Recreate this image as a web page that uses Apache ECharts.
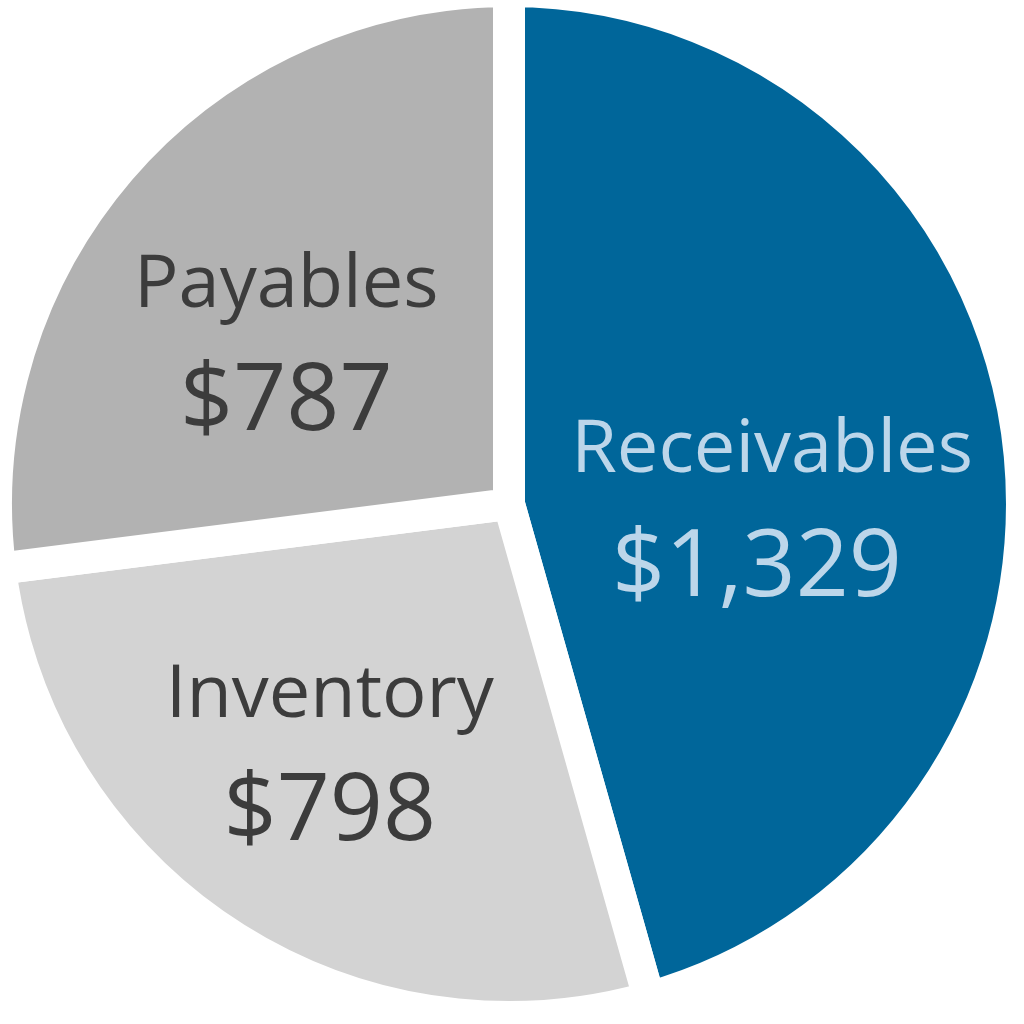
<!DOCTYPE html>
<html>
<head>
<meta charset="utf-8">
<script src="https://cdn.jsdelivr.net/npm/echarts@6/dist/echarts.min.js"></script>
<style>html,body{margin:0;padding:0;background:#fff}#c{width:1024px;height:1024px}</style>
</head>
<body>
<div id="c"></div>
<script>
const categories = ['Receivables', 'Inventory', 'Payables'];
const values = [1329, 798, 787];
const colors = ['#00669a', '#d3d3d3', '#b2b2b2'];
const textColors = ['#bcd6ea', '#3c3c3c', '#3c3c3c'];
// label nudges (layout only)
const labelShift = { Receivables: [6, 42], Inventory: [-36, 34], Payables: [-28, 12] };
const valuePadRight = { Receivables: 30, Inventory: 0, Payables: 0 };

const chart = echarts.init(document.getElementById('c'));
chart.setOption({
  animation: false,
  series: [{
    type: 'pie',
    center: [509, 504],
    radius: [0, 513],
    startAngle: 90,
    clockwise: true,
    itemStyle: { borderColor: '#ffffff', borderWidth: 32 },
    label: {
      show: true,
      position: 'inside',
      fontFamily: 'Open Sans',
      formatter: p => '{n|' + p.name + '}\n{v|$' + p.value.toLocaleString('en-US') + '}',
      rich: {
        n: { fontSize: 74, lineHeight: 118, fontFamily: 'Open Sans' },
        v: { fontSize: 93, lineHeight: 118, fontFamily: 'Open Sans' }
      }
    },
    labelLine: { show: false },
    labelLayout: p => {
      const s = labelShift[categories[p.dataIndex]];
      return { dx: s[0], dy: s[1] };
    },
    data: categories.map((c, i) => ({
      name: c,
      value: values[i],
      itemStyle: { color: colors[i] },
      label: {
        color: textColors[i],
        rich: {
          n: { color: textColors[i] },
          v: { color: textColors[i], padding: [0, valuePadRight[c], 0, 0] }
        }
      }
    }))
  }]
});
</script>
</body>
</html>
